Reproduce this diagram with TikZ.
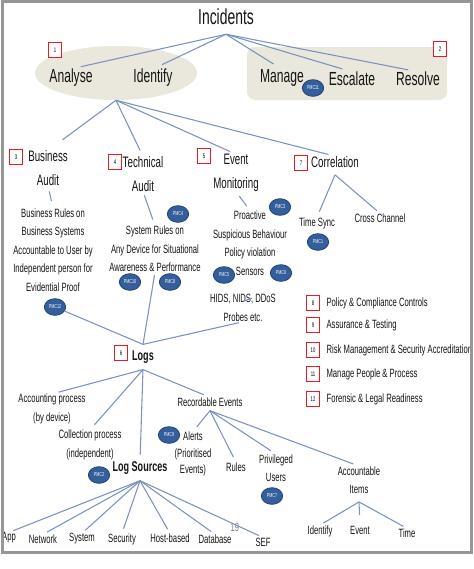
\documentclass[tikz,border=0pt]{standalone}
\usepackage{fontspec}
\setmainfont{Liberation Sans}[FakeStretch=0.64]
\usetikzlibrary{shapes.geometric,positioning}
\definecolor{lnkblue}{RGB}{122,146,192}
\definecolor{pmcblue}{RGB}{52,94,156}
\definecolor{pmcedge}{RGB}{36,66,112}
\definecolor{beige}{RGB}{234,231,220}
\definecolor{boxred}{RGB}{226,30,36}
\definecolor{txtgray}{RGB}{20,20,20}
\definecolor{framegray}{RGB}{150,150,150}
\tikzset{
  lnk/.style={draw=lnkblue, line width=0.8pt},
  bigtxt/.style={font=\fontsize{16.3}{18}\selectfont, text=txtgray, inner sep=0pt},
  toptxt/.style={font=\fontsize{14.2}{16}\selectfont, text=txtgray, inner sep=0pt},
  ttltxt/.style={font=\fontsize{11.4}{17.5}\selectfont, text=txtgray, inner sep=0pt, align=center},
  logtxt/.style={font=\bfseries\fontsize{10.6}{12}\selectfont, text=txtgray, inner sep=0pt},
  smltxt/.style={font=\fontsize{9}{13.9}\selectfont, text=txtgray, inner sep=0pt, align=center},
  pmc/.style={ellipse, draw=pmcedge, line width=0.6pt, fill=pmcblue, inner sep=0pt,
    minimum width=16pt, minimum height=12.5pt, text=white, font=\fontsize{4.3}{5}\selectfont},
  numbox/.style={draw=boxred, line width=1.2pt, fill=white, minimum width=9.75pt,
    minimum height=11.25pt, inner sep=0pt, font=\fontsize{5}{5}\selectfont},
}
\begin{document}
\begin{tikzpicture}[x=0.75pt,y=0.75pt,yscale=-1]
\useasboundingbox (0,0) rectangle (474,569);

%Shapes: groups
\node[ellipse, fill=beige, minimum width=121.5pt, minimum height=40.5pt] (analyseGrp) at (116,73) {};
\node[rectangle, rounded corners=6pt, fill=beige, minimum width=150pt, minimum height=39.75pt] (manageGrp) at (347,73.5) {};

%Top level
\node[bigtxt] (incidents) at (226,17) {Incidents};
\coordinate[below=6.75pt of incidents] (incFan);
\node[toptxt] (analyse) at (71,78) {Analyse};
\node[toptxt] (identify) at (153,78) {Identify};
\node[toptxt] (manage) at (282,78) {Manage};
\node[toptxt] (escalate) at (352,79) {Escalate};
\node[toptxt] (resolve) at (418,79) {Resolve};
\node[pmc] (pmc11) at (313,88) {PMC11};
\node[numbox] (n1) at (55,50) {1};
\node[numbox] (n2) at (440,49) {2};
\foreach \t in {analyse,identify,manage,escalate,resolve}
  \draw[lnk, shorten >=7.5pt] (incFan) -- (\t.north);

%Second level
\node[ttltxt] (bizAudit) at (48,168) {Business\\Audit};
\node[ttltxt] (techAudit) at (143,174) {Technical\\Audit};
\node[ttltxt] (evtMon) at (236,173) {Event\\Monitoring};
\node[ttltxt] (corr) at (335,162) {Correlation};
\node[numbox] (n3) at (16,157) {3};
\node[numbox] (n4) at (115,162) {4};
\node[numbox] (n5) at (204,156) {5};
\node[numbox] (n7) at (301,163) {7};
\draw[lnk, shorten >=13.5pt] (analyseGrp.south) -- (bizAudit.north);
\foreach \t in {techAudit,evtMon,corr}
  \draw[lnk, shorten >=5pt] (analyseGrp.south) -- (\t.north);

%Business audit
\node[smltxt] (bizRules) at (53,250) {Business Rules on\\Business Systems\\Accountable to User by\\Independent person for\\Evidential Proof};
\node[pmc] (pmc12) at (55,307) {PMC12};
\draw[lnk, shorten <=4.5pt, shorten >=5.5pt] (bizAudit.south) -- (bizRules.north);

%Technical audit
\node[smltxt] (techRules) at (155,249) {System Rules on\\Any Device for Situational\\Awareness \& Performance};
\node[pmc] (pmc4) at (178,214) {PMC4};
\node[pmc] (pmc10) at (130,282) {PMC10};
\node[pmc] (pmc8) at (170,282) {PMC8};
\draw[lnk, shorten <=3pt, shorten >=5pt] (techAudit.south) -- (techRules.north);

%Event monitoring
\node[smltxt] (evtRules) at (250,243) {Proactive\\Suspicious Behaviour\\Policy violation\\Sensors};
\node[smltxt] (hids) at (243,308) {HIDS, NIDS, DDoS\\Probes etc.};
\node[pmc] (pmc3) at (280,207) {PMC3};
\node[pmc] (pmc5) at (224,275) {PMC5};
\node[pmc] (pmc6) at (281,273) {PMC6};
\draw[lnk, shorten <=4pt, shorten >=4pt] (evtMon.south) -- (evtRules.north);
\draw[lnk] ([yshift=5.25pt]hids.north) -- ++(9,-3);

%Correlation
\coordinate[below=5.25pt of corr] (corrFan);
\node[smltxt] (timeSync) at (317,223) {Time Sync};
\node[smltxt] (crossCh) at (380,218) {Cross Channel};
\node[pmc] (pmc1) at (318,242) {PMC1};
\draw[lnk, shorten >=4.5pt] (corrFan) -- (timeSync.north);
\draw[lnk, shorten >=3pt] (corrFan) -- (crossCh.north);

%Legend
\node[numbox] (n8) at (313,303) {8};
\node[numbox] (n9) at (313,325) {9};
\node[numbox] (n10) at (313,350) {10};
\node[numbox] (n11) at (313,374) {11};
\node[numbox] (n12) at (313,399) {12};
\node[smltxt, right=4.5pt of n8] (leg8) {Policy \& Compliance Controls};
\node[smltxt, right=4.5pt of n9] (leg9) {Assurance \& Testing};
\node[smltxt, right=4.5pt of n10] (leg10) {Risk Management \& Security Accreditation};
\node[smltxt, right=4.5pt of n11] (leg11) {Manage People \& Process};
\node[smltxt, right=4.5pt of n12] (leg12) {Forensic \& Legal Readiness};

%Logs
\node[logtxt] (logs) at (143,357) {Logs};
\node[numbox] (n6) at (121,353) {6};
\coordinate[above=4.5pt of logs] (logsIn);
\coordinate[below=4.5pt of logs] (logsFan);
\draw[lnk] (pmc12) -- (logsIn);
\draw[lnk, shorten <=2pt] (techRules.south) -- (logsIn);
\draw[lnk, shorten <=3pt] (hids.south) -- (logsIn);

\node[smltxt] (accProc) at (52,409) {Accounting process\\(by device)};
\node[smltxt] (collProc) at (90,445) {Collection process\\(independent)};
\node[logtxt] (logSrc) at (140,468) {Log Sources};
\node[smltxt] (recEvt) at (210,402) {Recordable Events};
\node[pmc] (pmc2) at (99,475) {PMC2};
\foreach \t in {accProc,collProc,logSrc,recEvt}
  \draw[lnk, shorten >=5pt] (logsFan) -- (\t.north);

%Recordable events
\coordinate[below=3pt of recEvt] (recFan);
\node[smltxt, font=\fontsize{9}{12.4}\selectfont] (alerts) at (193,454) {Alerts\\(Prioritised\\Events)};
\node[smltxt] (rules) at (236,467) {Rules};
\node[smltxt] (privUsr) at (276,468) {Privileged\\Users};
\node[smltxt] (acctItm) at (359,480) {Accountable\\Items};
\node[pmc] (pmc9) at (169,435) {PMC9};
\node[pmc] (pmc7) at (272,496) {PMC7};
\foreach \t in {alerts,rules,privUsr,acctItm}
  \draw[lnk, shorten >=4.5pt] (recFan) -- (\t.north);

%Accountable items
\coordinate[below=6pt of acctItm] (acctFan);
\node[smltxt] (idf) at (320,531) {Identify};
\node[smltxt] (evnt) at (360,530) {Event};
\node[smltxt] (tim) at (407,533) {Time};
\draw[lnk, shorten >=3pt] (acctFan) -- (idf.north);
\draw[lnk, shorten >=8pt] (acctFan) -- (evnt.north);
\draw[lnk, shorten >=3pt] (acctFan) -- (tim.north);

%Log sources
\coordinate[below=4.5pt of logSrc] (srcFan);
\node[smltxt] (app) at (9,538) {App};
\node[smltxt] (network) at (43,539) {Network};
\node[smltxt] (system) at (82,539) {System};
\node[smltxt] (security) at (122,539) {Security};
\node[smltxt] (hostBased) at (170,538) {Host-based};
\node[smltxt] (database) at (215,539) {Database};
\node[smltxt] (sef) at (263,542) {SEF};
\node[smltxt, text=gray] (pgNum) at (235,527) {19};
\foreach \t in {app,network,system,security,hostBased,database,sef}
  \draw[lnk, shorten >=3.5pt] (srcFan) -- (\t.north);

%Frame
\draw[framegray, line width=2.25pt] (2,1) rectangle (471,552);
\end{tikzpicture}
\end{document}
